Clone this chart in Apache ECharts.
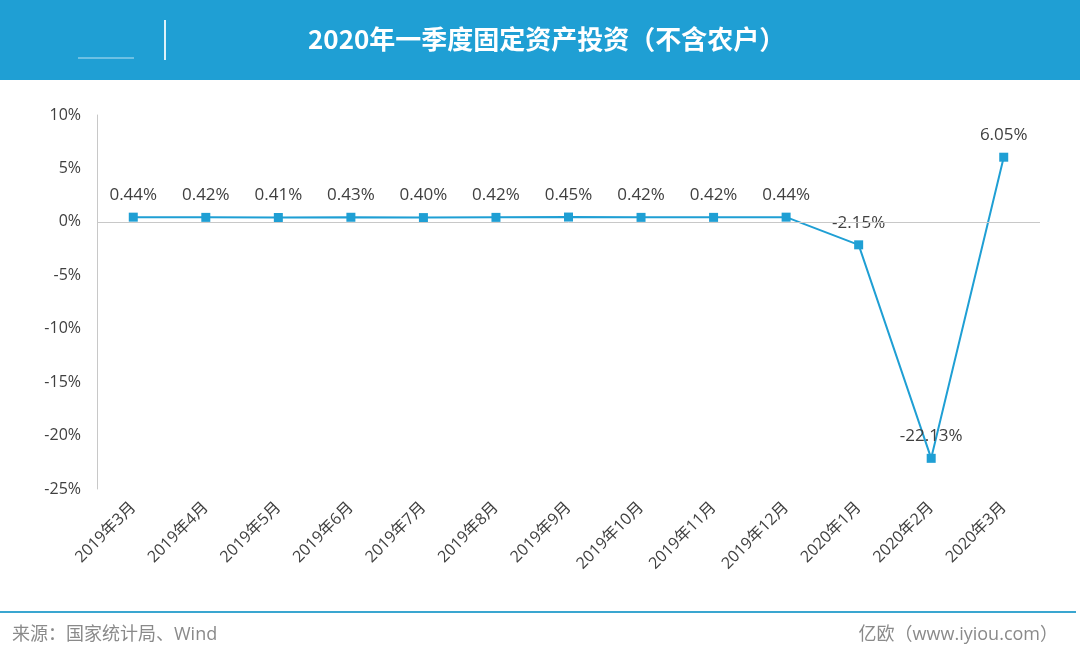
<!DOCTYPE html>
<html>
<head>
<meta charset="utf-8">
<script src="https://cdn.jsdelivr.net/npm/echarts@6/dist/echarts.min.js"></script>
<style>
html, body { margin: 0; padding: 0; background: #fff; }
#main { width: 1080px; height: 664px; }
</style>
</head>
<body>
<div id="main"></div>
<script>
// 月份
var months = ['2019年3月', '2019年4月', '2019年5月', '2019年6月', '2019年7月', '2019年8月',
    '2019年9月', '2019年10月', '2019年11月', '2019年12月', '2020年1月', '2020年2月', '2020年3月'];
// 环比增速 %
var growth = [0.44, 0.42, 0.41, 0.43, 0.40, 0.42, 0.45, 0.42, 0.42, 0.44, -2.15, -22.13, 6.05];
var yTicks = [-25, -20, -15, -10, -5, 0, 5, 10];

var FONT = '"Open Sans", "Noto Sans CJK SC", sans-serif';
var BLUE = '#1f9fd4';

var myChart = echarts.init(document.getElementById('main'));

var option = {
    backgroundColor: '#fff',
    animation: false,
    // 顶部标题栏和底部来源
    graphic: [
        { type: 'rect', shape: { x: 0, y: 0, width: 1080, height: 80 }, style: { fill: BLUE } },
        { type: 'rect', shape: { x: 164, y: 20, width: 2, height: 40 }, style: { fill: 'rgba(255,255,255,0.85)' } },
        { type: 'rect', shape: { x: 78, y: 57, width: 56, height: 2 }, style: { fill: 'rgba(255,255,255,0.35)' } },
        { type: 'text', left: 308, top: 26, style: {
            text: '2020年一季度固定资产投资（不含农户）', fill: '#fff',
            font: 'bold 26px "Noto Sans CJK SC", sans-serif' } },
        { type: 'rect', shape: { x: 0, y: 611, width: 1076, height: 2 }, style: { fill: '#3aa6d0' } },
        { type: 'text', left: 12, top: 626, style: {
            text: '来源：国家统计局、Wind', fill: '#8a8a8a', font: '18px ' + FONT } },
        { type: 'text', right: 22, top: 626, style: {
            text: '亿欧（www.iyiou.com）', fill: '#8a8a8a', font: '18px ' + FONT } }
    ],
    grid: { left: 97, right: 40, top: 115, bottom: 175 },
    xAxis: {
        type: 'category',
        data: months,
        axisLine: { show: false, onZero: false },
        axisTick: { show: false },
        axisLabel: { rotate: 45, margin: 16, color: '#404040', fontSize: 16, fontFamily: FONT }
    },
    yAxis: {
        type: 'value',
        min: yTicks[0],
        max: yTicks[yTicks.length - 1],
        interval: 5,
        axisLine: { show: true, lineStyle: { color: '#c8c8c8', width: 1 } },
        axisTick: { show: false },
        splitLine: { show: false },
        axisLabel: { margin: 16, color: '#404040', fontSize: 16, fontFamily: FONT,
            formatter: function (v) { return v + '%'; } }
    },
    series: [{
        type: 'line',
        data: growth,
        symbol: 'rect',
        symbolSize: 9,
        lineStyle: { color: BLUE, width: 2 },
        itemStyle: { color: BLUE },
        label: {
            show: true, position: 'top', distance: 9,
            color: '#404040', fontSize: 17, fontFamily: FONT,
            formatter: function (p) { return p.value.toFixed(2) + '%'; }
        },
        markLine: {
            silent: true, symbol: 'none', label: { show: false },
            lineStyle: { color: '#c8c8c8', width: 1, type: 'solid' },
            data: [{ yAxis: 0 }]
        },
        z: 3
    }]
};

myChart.setOption(option);
</script>
</body>
</html>
